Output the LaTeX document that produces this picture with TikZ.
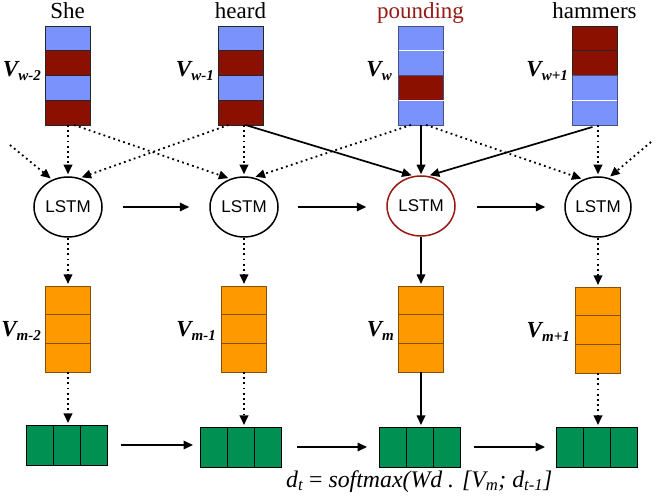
\documentclass[tikz,border=0pt]{standalone}
\usepackage{fontspec}
\setmainfont{Liberation Serif}
\newfontfamily\lsans{Liberation Sans}
\usetikzlibrary{shapes.geometric,arrows.meta}
\definecolor{cblue}{RGB}{122,146,252}
\definecolor{cred}{RGB}{140,16,0}
\definecolor{corange}{RGB}{255,153,0}
\definecolor{cgreen}{RGB}{0,145,82}
\definecolor{cword}{RGB}{150,25,20}
\definecolor{cbord}{RGB}{70,80,130}
\definecolor{obord}{RGB}{130,80,10}
\newcommand\vlab[1]{{\fontsize{23}{23}\selectfont\bfseries\itshape V}\raisebox{-4pt}{\fontsize{15}{15}\selectfont\bfseries\itshape #1}}
\tikzset{
  wcell/.style={minimum width=45pt, minimum height=24.75pt, inner sep=0pt, outer sep=0pt, draw=black!85, line width=0.7pt},
  bcell/.style={wcell, fill=cblue},
  rcell/.style={wcell, fill=cred},
  pbcell/.style={wcell, fill=cblue, draw=cbord},
  prcell/.style={wcell, fill=cred, draw=cbord},
  ocell/.style={minimum width=45.5pt, minimum height=28.7pt, inner sep=0pt, outer sep=0pt, fill=corange, draw=obord, line width=0.7pt},
  gcell/.style={minimum width=27pt, minimum height=40pt, inner sep=0pt, outer sep=0pt, fill=cgreen, draw=black, line width=0.8pt},
  lstm/.style={ellipse, draw=black, line width=1.5pt, minimum width=68pt, minimum height=60pt, inner sep=0pt, font=\lsans\fontsize{17}{17}\selectfont},
  word/.style={anchor=base, font=\fontsize{23}{23}\selectfont, inner sep=0pt},
  vlabel/.style={anchor=east, inner sep=0pt},
  tip/.style={-{Triangle[length=9.5pt,width=8.5pt]}},
  solarrow/.style={tip, line width=1.7pt},
  dotarrow/.style={tip, line width=1.8pt, dash pattern=on 1.8pt off 3.4pt},
  gap/.style={draw=white, line width=1.3pt}
}
\begin{document}
\begin{tikzpicture}[x=1pt,y=-1pt]
\useasboundingbox (0,0) rectangle (657,497);
% words
\node[word] (t1) at (67.5,19) {She};
\node[word] (t2) at (240.5,19) {heard};
\node[word, text=cword] (t3) at (420.5,19) {pounding};
\node[word] (t4) at (594.5,19) {hammers};
% word vectors
\node[bcell] (w1a) at (68,38.4) {};
\node[rcell] (w1b) at (68,63.1) {};
\node[bcell] (w1c) at (68,87.9) {};
\node[rcell] (w1d) at (68,112.6) {};
\node[bcell] (w2a) at (240.5,38.4) {};
\node[rcell] (w2b) at (240.5,63.1) {};
\node[bcell] (w2c) at (240.5,87.9) {};
\node[rcell] (w2d) at (240.5,112.6) {};
\node[pbcell] (w3a) at (421,38.4) {};
\node[pbcell] (w3b) at (421,63.1) {};
\node[prcell] (w3c) at (421,87.9) {};
\node[pbcell] (w3d) at (421,112.6) {};
\node[rcell] (w4a) at (594.5,38.4) {};
\node[rcell] (w4b) at (594.5,63.1) {};
\node[pbcell] (w4c) at (594.5,87.9) {};
\node[pbcell] (w4d) at (594.5,112.6) {};
\draw[gap] (w3a.south west) -- (w3a.south east);
\draw[gap] (w3c.south west) -- (w3c.south east);
\draw[gap] (w4c.south west) -- (w4c.south east);
% word labels
\node[vlabel] (v1) at (41,71) {\vlab{w-2}};
\node[vlabel] (v2) at (214,71) {\vlab{w-1}};
\node[vlabel] (v3) at (392,71) {\vlab{w}};
\node[vlabel] (v4) at (568,71) {\vlab{w+1}};
% LSTMs
\node[lstm] (L1) at (68,207) {LSTM};
\node[lstm] (L2) at (244,207) {LSTM};
\node[lstm, draw=cword] (L3) at (421,206) {LSTM};
\node[lstm, minimum width=66pt] (L4) at (598,207) {LSTM};
\coordinate (lin) at (10,145);
\coordinate (rin) at (651,142);
% inputs to LSTMs
\draw[dotarrow, shorten >=2pt] (lin) -- (L1.120);
\draw[dotarrow, shorten >=2pt] (w1d.south) -- (L1.north);
\draw[dotarrow, shorten >=2pt] ([xshift=6pt]w1d.south) -- (L2.116);
\draw[dotarrow, shorten >=2pt] ([xshift=-12pt]w2d.south) -- (L1.68);
\draw[dotarrow, shorten >=2pt] ([xshift=3.5pt]w2d.south) -- (L2.north);
\draw[solarrow, shorten >=2pt] ([xshift=5pt]w2d.south) -- (L3.104);
\draw[dotarrow, shorten >=2pt] ([xshift=-10pt]w3d.south) -- (L2.72);
\draw[solarrow, shorten >=1pt] (w3d.south) -- (L3.north);
\draw[dotarrow, shorten >=2pt] ([xshift=5pt]w3d.south) -- (L4.118);
\draw[solarrow, shorten >=2pt] ([xshift=-2pt,yshift=-2pt]w4d.south) -- (L3.77);
\draw[dotarrow, shorten >=2pt] ([xshift=3.5pt]w4d.south) -- (L4.north);
\draw[dotarrow, shorten >=2pt] (rin) -- (L4.70);
% LSTM chain
\draw[solarrow, shorten <=20pt, shorten >=20pt] (L1.east) -- (L2.west |- L1.east);
\draw[solarrow, shorten <=19pt, shorten >=20pt] (L2.east) -- (L3.west |- L2.east);
\draw[solarrow, shorten <=21pt, shorten >=19pt] (L3.east |- L4.west) -- (L4.west);
% orange vectors
\node[ocell] (o1a) at (68,300.3) {};
\node[ocell] (o1b) at (68,329) {};
\node[ocell] (o1c) at (68,357.7) {};
\node[ocell] (o2a) at (244,300.3) {};
\node[ocell] (o2b) at (244,329) {};
\node[ocell] (o2c) at (244,357.7) {};
\node[ocell] (o3a) at (421,300.3) {};
\node[ocell] (o3b) at (421,329) {};
\node[ocell] (o3c) at (421,357.7) {};
\node[ocell] (o4a) at (598,301.3) {};
\node[ocell] (o4b) at (598,330) {};
\node[ocell] (o4c) at (598,358.7) {};
\node[vlabel] (m1) at (41,331) {\vlab{m-2}};
\node[vlabel] (m2) at (216,331) {\vlab{m-1}};
\node[vlabel] (m3) at (394,331) {\vlab{m}};
\node[vlabel] (m4) at (570,332) {\vlab{m+1}};
\draw[dotarrow, shorten >=2pt] (L1.south) -- (o1a.north);
\draw[dotarrow, shorten >=2pt] (L2.south) -- (o2a.north);
\draw[solarrow, shorten >=2pt] (L3.south) -- (o3a.north);
\draw[dotarrow, shorten >=2pt] (L4.south) -- (o4a.north);
% green vectors
\node[gcell] (g1a) at (39.5,445) {};
\node[gcell] (g1b) at (66.5,445) {};
\node[gcell] (g1c) at (93.5,445) {};
\node[gcell] (g2a) at (213.5,447) {};
\node[gcell] (g2b) at (240.5,447) {};
\node[gcell] (g2c) at (267.5,447) {};
\node[gcell] (g3a) at (392.5,447) {};
\node[gcell] (g3b) at (419.5,447) {};
\node[gcell] (g3c) at (446.5,447) {};
\node[gcell] (g4a) at (569.5,447) {};
\node[gcell] (g4b) at (596.5,447) {};
\node[gcell] (g4c) at (623.5,447) {};
\draw[dotarrow, shorten >=2pt] (o1c.south) -- (o1c.south |- g1b.north);
\draw[dotarrow, shorten >=2pt] (o2c.south) -- (o2c.south |- g2b.north);
\draw[solarrow, shorten >=2pt] (o3c.south) -- (o3c.south |- g3b.north);
\draw[dotarrow, shorten >=2pt] (o4c.south) -- (o4c.south |- g4b.north);
\draw[solarrow, shorten <=14pt, shorten >=7pt] (g1c.east) -- (g2a.west |- g1c.east);
\draw[solarrow, shorten <=16pt, shorten >=12pt] (g2c.east) -- (g3a.west);
\draw[solarrow, shorten <=14pt, shorten >=11pt] (g3c.east) -- (g4a.west);
% formula
\node[anchor=base west, inner sep=0pt, font=\fontsize{23.8}{24}\selectfont\itshape] (f) at (286,487) {d\textsubscript{t} {\upshape =} softmax(Wd . [V\textsubscript{m}; d\textsubscript{t-1}]};
\end{tikzpicture}
\end{document}
